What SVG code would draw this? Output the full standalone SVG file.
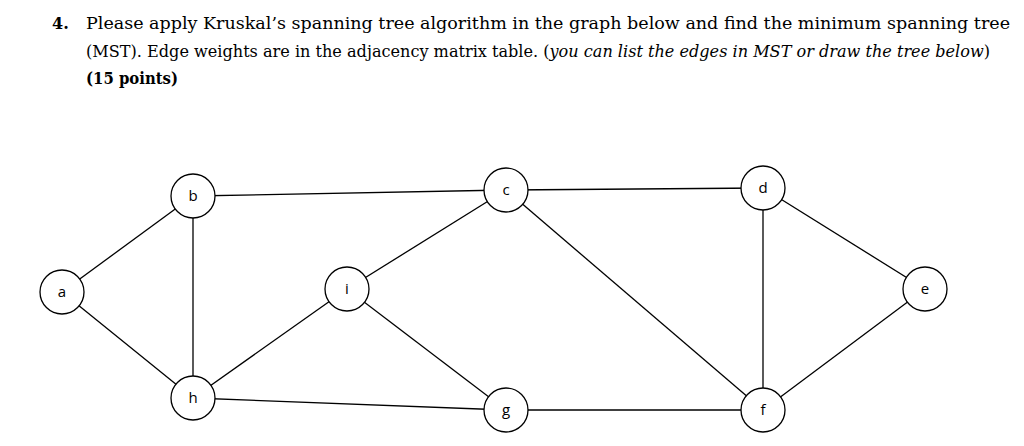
<svg xmlns="http://www.w3.org/2000/svg" width="1024" height="446" viewBox="0 0 1024 446">
<style>
.t{font-family:"DejaVu Serif",serif;font-size:16px;fill:#000}
.b{font-weight:bold}
.i{font-style:italic}
.n circle{fill:#fff;stroke:#000;stroke-width:1.3}
.n text{font-family:"Open Sans",sans-serif;font-size:15px;text-anchor:middle;fill:#000}
#edges line{stroke:#000;stroke-width:1.3}
</style>
<rect width="1024" height="446" fill="#fff"/>
<text class="t b" x="52" y="29">4.</text>
<text class="t" x="86" y="29" textLength="924" lengthAdjust="spacingAndGlyphs">Please apply Kruskal’s spanning tree algorithm in the graph below and find the minimum spanning tree</text>
<text class="t" x="86" y="57" textLength="904" lengthAdjust="spacingAndGlyphs">(MST). Edge weights are in the adjacency matrix table. (<tspan class="i">you can list the edges in MST or draw the tree below</tspan>)</text>
<text class="t b" x="86" y="84" textLength="92" lengthAdjust="spacingAndGlyphs">(15 points)</text>
<g id="edges">
<line x1="62" y1="292" x2="193" y2="196"/>
<line x1="62" y1="292" x2="193" y2="398"/>
<line x1="193" y1="196" x2="193" y2="398"/>
<line x1="193" y1="196" x2="506" y2="190"/>
<line x1="347" y1="289" x2="506" y2="190"/>
<line x1="506" y1="190" x2="763" y2="410"/>
<line x1="506" y1="190" x2="763" y2="188"/>
<line x1="763" y1="188" x2="763" y2="410"/>
<line x1="763" y1="188" x2="925" y2="289"/>
<line x1="925" y1="289" x2="763" y2="410"/>
<line x1="347" y1="289" x2="193" y2="398"/>
<line x1="347" y1="289" x2="506" y2="410"/>
<line x1="193" y1="398" x2="506" y2="410"/>
<line x1="506" y1="410" x2="763" y2="410"/>
</g>
<g id="a" class="n"><circle cx="62" cy="292" r="22"/><text x="62" y="297">a</text></g>
<g id="b" class="n"><circle cx="193" cy="196" r="22"/><text x="193" y="201">b</text></g>
<g id="c" class="n"><circle cx="506" cy="190" r="22"/><text x="506" y="195">c</text></g>
<g id="d" class="n"><circle cx="763" cy="188" r="22"/><text x="763" y="193">d</text></g>
<g id="e" class="n"><circle cx="925" cy="289" r="22"/><text x="925" y="294">e</text></g>
<g id="i" class="n"><circle cx="347" cy="289" r="22"/><text x="347" y="294">i</text></g>
<g id="h" class="n"><circle cx="193" cy="398" r="22"/><text x="193" y="403">h</text></g>
<g id="g" class="n"><circle cx="506" cy="410" r="22"/><text x="506" y="415">g</text></g>
<g id="f" class="n"><circle cx="763" cy="410" r="22"/><text x="763" y="415">f</text></g>
</svg>
